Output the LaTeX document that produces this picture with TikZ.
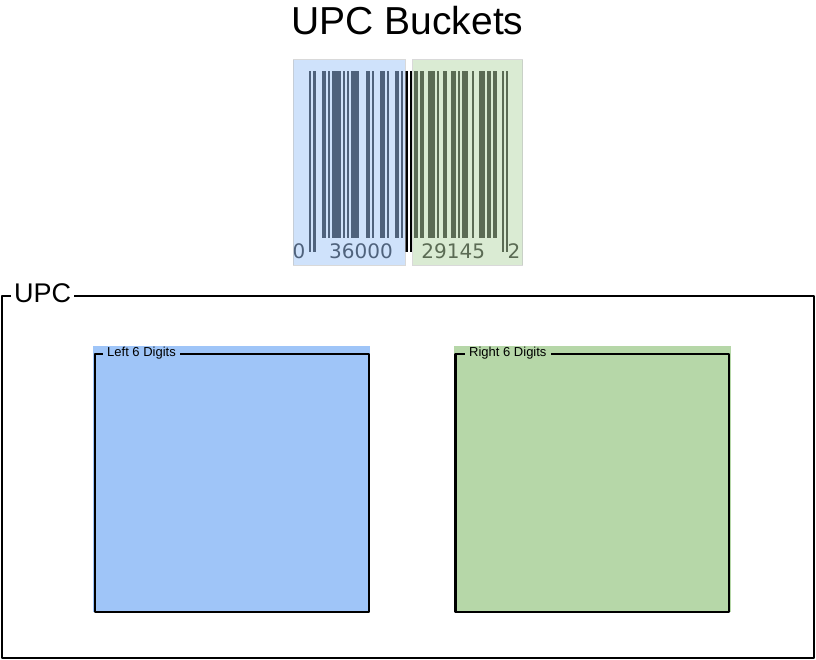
\documentclass[tikz,border=0pt]{standalone}
\usepackage{fontspec}
\setmainfont{Liberation Sans}
\newfontfamily\digitfont{DejaVu Sans}
\definecolor{leftblue}{HTML}{9FC5F8}
\definecolor{rightgreen}{HTML}{B6D7A8}
\begin{document}
\begin{tikzpicture}[x=1pt,y=-1pt,
  databar/.style={fill=black},
  zone/.style={draw=black!25,line width=1pt,fill opacity=0.5,draw opacity=0.6},
  frame/.style={draw=black,line width=2.8pt,line join=round},
  framelabel/.style={anchor=base west,inner xsep=4pt,inner ysep=1pt},
  digits/.style={anchor=base,font=\digitfont\fontsize{20}{22}\selectfont}]
  \useasboundingbox (0,0) rectangle (816,660);

  % Title
  \node[anchor=base,font=\fontsize{39}{44}\selectfont] (title) at (407.5,35) {UPC Buckets};

  % Barcode bars
  \foreach \s/\w in {6/2,9/1,11/4,16/1,18/1,20/4,27/2,30/1,34/2,37/1,41/2,44/1,
                     50/2,53/2,57/3,61/1,64/2,68/2,71/1,73/3,78/1,81/3,85/2,88/2}
    \fill[databar] ({309.3+\s*2.09},70.7) rectangle +({\w*2.09},167.6);
  % Guard bars
  \foreach \s in {0,2,46,48,92,94}
    \fill[databar] ({309.3+\s*2.09},70.7) rectangle +(2.09,181);

  % Digits
  \node[digits] (d0) at (299,258.3) {0};
  \node[digits] (dleft) at (361,258.3) {36000};
  \node[digits] (dright) at (453.3,258.3) {29145};
  \node[digits] (dcheck) at (514,258.3) {2};

  % Halves of the barcode
  \filldraw[zone,fill=leftblue] (293.3,60) rectangle (405,265.3);
  \filldraw[zone,fill=rightgreen] (412.7,60) rectangle (522.7,265.3);

  % Outer box
  \draw[frame,line width=2.4pt] (2,296) rectangle (814,658);
  \node[framelabel,inner xsep=3pt,fill=white,font=\fontsize{27}{30}\selectfont] (upc) at (11,302.3) {UPC};

  % Left bucket
  \fill[leftblue] (93,346) rectangle (370,612.3);
  \draw[frame] (95,354) rectangle (369,612);
  \node[framelabel,fill=leftblue,font=\fontsize{13}{15}\selectfont] (lefttag) at (103,356) {Left 6 Digits};

  % Right bucket
  \fill[rightgreen] (454.3,346) rectangle (730.7,612.3);
  \draw[frame] (455.7,354) rectangle (729,612);
  \node[framelabel,fill=rightgreen,font=\fontsize{13}{15}\selectfont] (righttag) at (465,356) {Right 6 Digits};

\end{tikzpicture}
\end{document}
